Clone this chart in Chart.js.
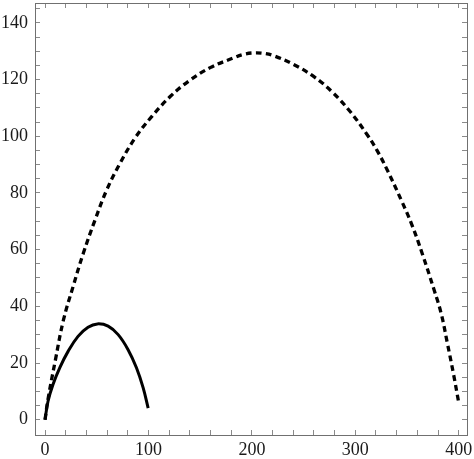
<!DOCTYPE html>
<html>
<head>
<meta charset="utf-8">
<script src="https://cdn.jsdelivr.net/npm/chart.js@4.4.1/dist/chart.umd.min.js"></script>
<style>
  html, body { margin: 0; padding: 0; background: #fff; }
  #wrap { width: 474px; height: 459px; position: relative; }
</style>
</head>
<body>
<div id="wrap"><canvas id="mycanvas"></canvas></div>
<script>
// curve: short (solid) and long (dashed) arc
var solidX = [0, 2.9, 7.7, 14.2, 22.3, 31.9, 41.6, 50.6, 61, 70.7, 80.3, 88.4, 94.9, 99.7];
var solidY = [0, 6.5, 12.4, 18.3, 24.1, 29.4, 32.6, 33.8, 33, 30, 24.7, 18.3, 11.2, 4.1];

var dashedX = [0, 3, 10, 17.7, 27.4, 37.1, 48.4, 59.7, 72.6, 87.1, 103.3, 121, 138.7, 159.7, 182, 192, 202, 212, 221, 240, 260, 278, 295, 311, 321, 331, 345, 355, 365, 376, 383, 389, 395, 400];
var dashedY = [0, 7.5, 21, 35, 47.3, 58.8, 70.5, 81.1, 90.5, 99.4, 107, 114, 119.4, 124.2, 127.6, 128.9, 129.4, 129.2, 128.4, 125.4, 121, 115.5, 108.7, 100.8, 95, 88, 77, 68.5, 58.3, 46, 37.5, 27, 16, 6];

var xLabels = [0, 100, 200, 300, 400];
var yLabels = [0, 20, 40, 60, 80, 100, 120, 140];

var xMinorStep = 20, yMinorStep = 5;
var xTicks = [], yTicks = [];
for (var v = 0; v <= 400; v += xMinorStep) xTicks.push(v);
for (var w = 0; w <= 145; w += yMinorStep) yTicks.push(w);

function toPoints(xs, ys) {
	var pts = [];
	for (var i in xs) pts.push({x: xs[i], y: ys[i]});
	return pts;
}

var tickFont = {family: "'Liberation Serif', 'DejaVu Serif', serif", size: 18};
var frameColor = '#707070';
var tickColor = '#8a8a8a';

function axis(pos, ticks, labels, min, max, showLabels, pad) {
	return {
		type: 'linear',
		position: pos,
		min: min,
		max: max,
		bounds: 'data',
		afterBuildTicks: function(a) {
			a.ticks = ticks.map(function(t) { return {value: t}; });
		},
		afterFit: function(a) {
			if (pos === 'left') a.width = showLabels ? 35 : 0;
			else if (pos === 'right') a.width = 0;
			else a.height = showLabels ? 24 : 0;
			// labels may hang over the frame, no extra room for them
			a.paddingTop = 0;
			a.paddingBottom = 0;
			a.paddingLeft = 0;
			a.paddingRight = 0;
		},
		grid: {
			display: true,
			drawOnChartArea: false,
			drawTicks: true,
			tickLength: -5,
			tickColor: tickColor,
			tickWidth: 1
		},
		border: {display: true, color: frameColor, width: 1},
		ticks: {
			display: showLabels,
			autoSkip: false,
			maxRotation: 0,
			padding: pad,
			color: '#1a1a1a',
			font: tickFont,
			callback: function(val) {
				return labels.indexOf(val) >= 0 ? String(val) : '';
			}
		}
	};
}

var chartdata = {
	datasets: [
		{
			label: 'short',
			data: toPoints(solidX, solidY),
			borderColor: '#000',
			borderWidth: 3,
			pointRadius: 0,
			showLine: true,
			tension: 0.4,
			fill: false
		},
		{
			label: 'long',
			data: toPoints(dashedX, dashedY),
			borderColor: '#000',
			borderWidth: 3.3,
			borderDash: [6, 4],
			pointRadius: 0,
			showLine: true,
			tension: 0.4,
			fill: false
		}
	]
};

var ctx = document.getElementById('mycanvas');

var lineGraph = new Chart(ctx, {
	type: 'scatter',
	data: chartdata,
	options: {
		responsive: true,
		maintainAspectRatio: false,
		animation: false,
		layout: {autoPadding: false, padding: {left: 0, top: 3, right: 7, bottom: 0}},
		plugins: {legend: {display: false}, tooltip: {enabled: false}},
		scales: {
			x: axis('bottom', xTicks, xLabels, -9.7, 408, true, 9),
			y: axis('left', yTicks, yLabels, -5.4, 147, true, 12),
			x2: axis('top', xTicks, xLabels, -9.7, 408, false, 0),
			y2: axis('right', yTicks, yLabels, -5.4, 147, false, 0)
		}
	}
});
</script>
</body>
</html>
